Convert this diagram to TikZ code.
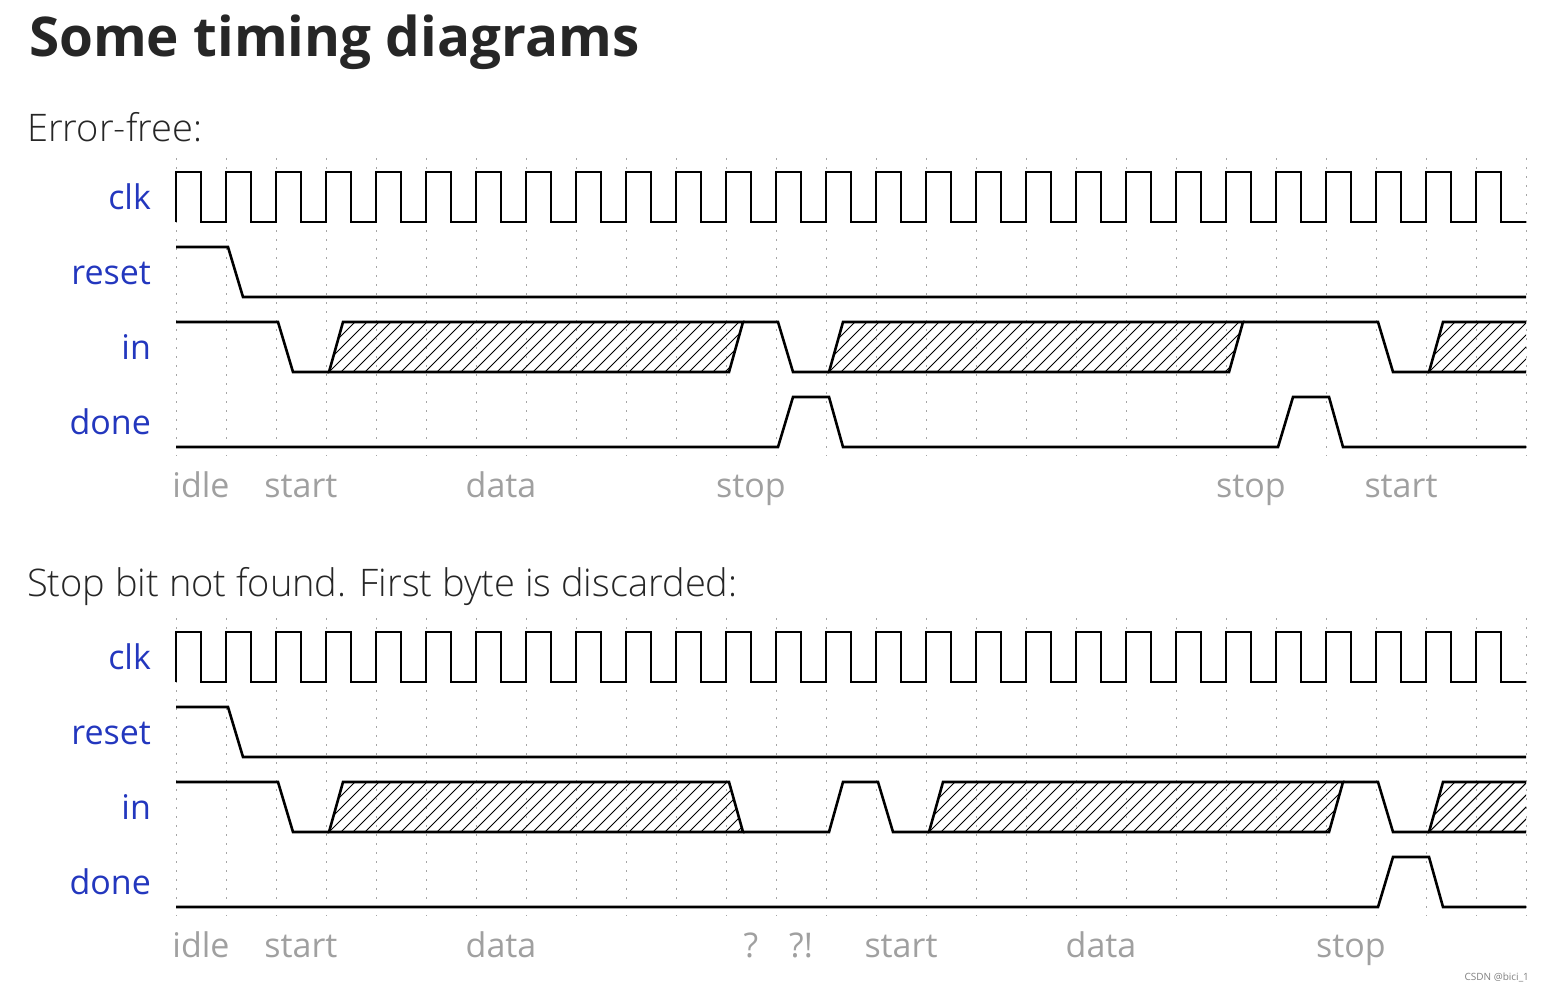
\documentclass[tikz,border=0pt]{standalone}
\usepackage{fontspec}
\setmainfont{Open Sans}
\newfontfamily\lightfont{Open Sans Light}
\definecolor{sigblue}{RGB}{35,55,190}
\definecolor{lblgrey}{RGB}{160,160,160}
\begin{document}
\begin{tikzpicture}[x=0.5pt,y=-0.5pt,
  wave/.style={line width=1.3pt,line join=miter},
  gridl/.style={gray!70,line width=0.5pt,dash pattern=on 1pt off 3.5pt},
  sig/.style={text=sigblue,anchor=base east,font=\fontsize{17}{17}\selectfont},
  phase/.style={text=lblgrey,anchor=base,font=\fontsize{17}{17}\selectfont},
  hd/.style={anchor=west,font=\lightfont\fontsize{19}{19}\selectfont,text=black!85}]
\useasboundingbox (0,0) rectangle (1551,992);
\node[anchor=west,font=\bfseries\fontsize{27.4}{27.4}\selectfont,text=black!85] (title) at (22,42) {Some timing diagrams};
\node[hd] (h1) at (20,127) {Error-free:};
\node[hd] (h2) at (20,587) {Stop bit not found. First byte is discarded:};
\node[font=\fontsize{5}{5}\selectfont,text=gray,anchor=east] (wm) at (1536,977) {CSDN @bici\_1};
\newcommand\hatchbox[4]{% bl tl tr br
  \begin{scope}
    \clip (#1,372)--(#2,322)--(#3,322)--(#4,372)--cycle;
    \pgfmathtruncatemacro\ka{#1-60}
    \pgfmathtruncatemacro\kb{#4+10}
    \foreach \k in {\ka,...,\kb}{%
      \pgfmathtruncatemacro\r{mod(\k-\ka,12)}
      \ifnum\r=0 \draw[line width=0.5pt] (\k,372)--(\k+50,322);\fi}
  \end{scope}
  \draw[wave] (#1,372)--(#2,322)--(#3,322)--(#4,372)--cycle;}
\newcommand\common{%
  \foreach \i in {0,...,27}{\draw[gridl] (176+50*\i,158)--(176+50*\i,456);}
  \draw[wave] (176,222) \foreach \i in {0,...,26}{ -- (176+50*\i,172) -- (201+50*\i,172) -- (201+50*\i,222) -- (226+50*\i,222)};
  \draw[wave] (176,247)--(228,247)--(243,297)--(1526,297);
  \node[sig] (lclk) at (158,209) {clk};
  \node[sig] (lrst) at (158,284) {reset};
  \node[sig] (lin) at (158,359) {in};
  \node[sig] (ldone) at (158,434) {done};
  \node[phase] (pidle) at (201,497) {idle};
  \node[phase] (pstart) at (301,497) {start};
  \node[phase] (pdata) at (501,497) {data};}
% ---------- diagram 1
\begin{scope}
\common
\draw[wave] (176,322)--(278,322)--(293,372)--(329,372);
\hatchbox{329}{343}{743}{729}
\draw[wave] (743,322)--(778,322)--(793,372)--(829,372);
\hatchbox{829}{843}{1243}{1229}
\draw[wave] (1243,322)--(1378,322)--(1393,372)--(1429,372);
\begin{scope}\clip (1420,300) rectangle (1526,400);
\hatchbox{1429}{1443}{1560}{1546}\end{scope}
\draw[wave] (1443,322)--(1526,322) (1443,372)--(1526,372);
\draw[wave] (176,447)--(778,447)--(793,397)--(829,397)--(843,447)--(1278,447)--(1293,397)--(1329,397)--(1343,447)--(1526,447);
\node[phase] (pstop1) at (751,497) {stop};
\node[phase] (pstop2) at (1251,497) {stop};
\node[phase] (pstart2) at (1401,497) {start};
\end{scope}
% ---------- diagram 2
\begin{scope}[shift={(0,460)}]
\common
\draw[wave] (176,322)--(278,322)--(293,372)--(329,372);
\hatchbox{329}{343}{729}{743}
\draw[wave] (743,372)--(829,372)--(843,322)--(878,322)--(893,372)--(929,372);
\hatchbox{929}{943}{1343}{1329}
\draw[wave] (1343,322)--(1378,322)--(1393,372)--(1429,372);
\begin{scope}\clip (1420,300) rectangle (1526,400);
\hatchbox{1429}{1443}{1560}{1546}\end{scope}
\draw[wave] (1443,322)--(1526,322) (1443,372)--(1526,372);
\draw[wave] (176,447)--(1378,447)--(1393,397)--(1429,397)--(1443,447)--(1526,447);
\node[phase] (pq) at (751,497) {?};
\node[phase] (pq2) at (801,497) {?!};
\node[phase] (pstart3) at (901,497) {start};
\node[phase] (pdata3) at (1101,497) {data};
\node[phase] (pstop3) at (1351,497) {stop};
\end{scope}
\end{tikzpicture}
\end{document}
